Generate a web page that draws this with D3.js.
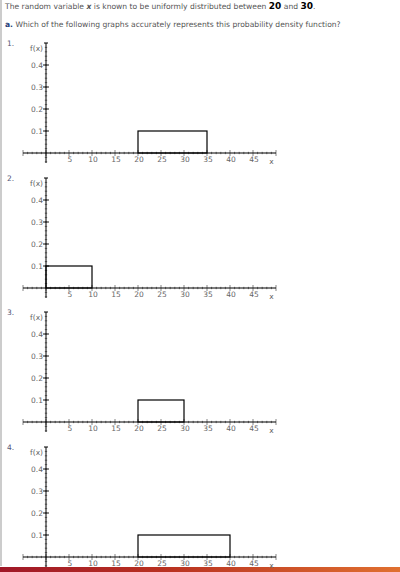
<!DOCTYPE html>
<html><head><meta charset="utf-8">
<script src="https://cdn.jsdelivr.net/npm/d3@7"></script>
<style>
body{margin:0;background:#fff;font-family:Verdana,"DejaVu Sans",sans-serif;}
</style></head><body>
<svg width="400" height="572"></svg>
<script>
const problems = ['1.', '2.', '3.', '4.'];
const starts = [20, 0, 20, 20];
const ends = [35, 10, 30, 40];
const heights = [0.1, 0.1, 0.1, 0.1];
const xTicks = [5, 10, 15, 20, 25, 30, 35, 40, 45];
const yTicks = [0.1, 0.2, 0.3, 0.4];
const baselines = [153, 288, 422, 557];

const svg = d3.select('svg');
svg.append('rect').attr('x', 0).attr('y', 0).attr('width', 2).attr('height', 566).attr('fill', '#ccc');

const grad = svg.append('defs').append('linearGradient').attr('id', 'g');
grad.append('stop').attr('offset', '0').attr('stop-color', '#a01828');
grad.append('stop').attr('offset', '0.4').attr('stop-color', '#b83020');
grad.append('stop').attr('offset', '1').attr('stop-color', '#e07030');
svg.append('rect').attr('x', 0).attr('y', 567).attr('width', 400).attr('height', 5).attr('fill', 'url(#g)');

const head = svg.append('text').attr('x', 5).attr('y', 9).attr('font-size', 7.6).attr('fill', '#555');
head.append('tspan').text('The random variable ');
head.append('tspan').text('x').attr('font-weight', 'bold').attr('font-style', 'italic');
head.append('tspan').text(' is known to be uniformly distributed between ');
head.append('tspan').text('20').attr('font-weight', 'bold').attr('fill', '#000').attr('font-size', 9);
head.append('tspan').text(' and ');
head.append('tspan').text('30').attr('font-weight', 'bold').attr('fill', '#000').attr('font-size', 9);
head.append('tspan').text('.');

const q = svg.append('text').attr('x', 5).attr('y', 27).attr('font-size', 7.6).attr('fill', '#555');
q.append('tspan').text('a.').attr('font-weight', 'bold').attr('fill', '#2a3f7a');
q.append('tspan').text(' Which of the following graphs accurately represents this probability density function?');

const x = d3.scaleLinear().domain([0, 50]).range([46, 276]);

problems.forEach((p, i) => {
  const b = baselines[i];
  const y = d3.scaleLinear().domain([0, 0.1]).range([b, b - 22]);
  const g = svg.append('g').attr('font-size', 7.5).attr('fill', '#666');
  g.append('text').attr('x', 7).attr('y', b - 107).text(p).attr('fill', '#557');

  const minorX = d3.range(-5, 51);
  g.selectAll('.mx').data(minorX).enter().append('line')
    .attr('x1', d => x(d)).attr('x2', d => x(d))
    .attr('y1', d => b - (d % 5 === 0 ? 3 : 1.2)).attr('y2', d => b + (d % 5 === 0 ? 3 : 1.2))
    .attr('stroke', '#333').attr('stroke-width', 0.6);
  g.append('line').attr('x1', x(-5)).attr('x2', x(50)).attr('y1', b).attr('y2', b).attr('stroke', '#000');

  const minorY = d3.range(-0.04, 0.49, 0.02);
  g.selectAll('.my').data(minorY).enter().append('line')
    .attr('x1', x(0) - 1.2).attr('x2', x(0) + 1.2)
    .attr('y1', d => y(d)).attr('y2', d => y(d))
    .attr('stroke', '#333').attr('stroke-width', 0.6);
  g.selectAll('.My').data(yTicks).enter().append('line')
    .attr('x1', x(0) - 3).attr('x2', x(0) + 3)
    .attr('y1', d => y(d)).attr('y2', d => y(d))
    .attr('stroke', '#000').attr('stroke-width', 0.9);
  g.append('line').attr('x1', x(0)).attr('x2', x(0)).attr('y1', y(0.5)).attr('y2', b + 10).attr('stroke', '#000');
  g.append('line').attr('x1', x(0) - 2).attr('x2', x(0) + 2).attr('y1', y(0.5)).attr('y2', y(0.5)).attr('stroke', '#000');

  g.selectAll('.xl').data(xTicks).enter().append('text')
    .attr('x', d => x(d) + 1).attr('y', b + 9).attr('text-anchor', 'middle').text(d => d);
  g.selectAll('.yl').data(yTicks).enter().append('text')
    .attr('x', x(0) - 3).attr('y', d => y(d) + 3).attr('text-anchor', 'end').text(d => d.toFixed(1));
  g.append('text').attr('x', x(0) - 3).attr('y', y(0.5) + 8).attr('text-anchor', 'end').text('f(x)');
  g.append('text').attr('x', x(49)).attr('y', b + 11).attr('text-anchor', 'middle').text('x');

  g.append('rect').attr('x', x(starts[i])).attr('y', y(heights[i]))
    .attr('width', x(ends[i]) - x(starts[i])).attr('height', b - y(heights[i]))
    .attr('fill', 'none').attr('stroke', '#000').attr('stroke-width', 1.2);
});
</script></body></html>
